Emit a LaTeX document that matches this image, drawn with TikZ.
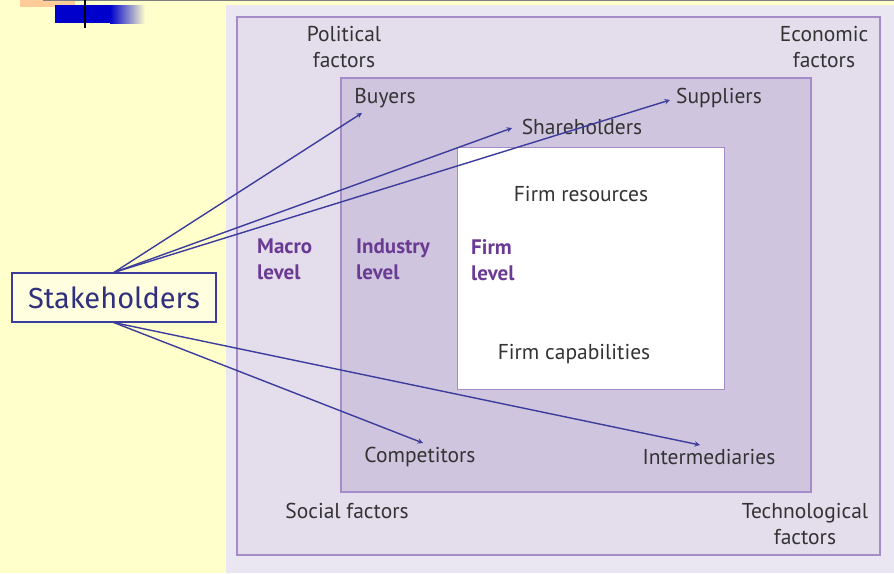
\documentclass[tikz,border=0pt]{standalone}
\usepackage{fontspec}
\setmainfont{PT Sans}
\newfontfamily\stk{Fira Sans}
\definecolor{bgy}{HTML}{FFFFCC}
\definecolor{pan}{HTML}{EAE6F2}
\definecolor{mac}{HTML}{E3DDEC}
\definecolor{ind}{HTML}{CFC5DE}
\definecolor{edg}{HTML}{A58CC8}
\definecolor{lvc}{HTML}{6B3B93}
\definecolor{arc}{HTML}{3C3C9C}
\begin{document}
\begin{tikzpicture}[x=1pt,y=-1pt,
  lab/.style={font=\fontsize{21.5}{26}\selectfont,text=black!80,align=center,inner sep=0},
  lvl/.style={font=\bfseries\fontsize{21}{26}\selectfont,text=lvc,align=left,inner sep=0,anchor=north west},
  arr/.style={draw=arc,line width=1.4pt,->,>=stealth}]
\useasboundingbox (0,0) rectangle (894,573);
\fill[bgy] (0,0) rectangle (894,573);
\fill[orange!40] (20,0) rectangle (75,7);
\fill[blue!80!black] (55,5) rectangle (110,23);
\shade[left color=blue!80!black,right color=bgy] (110,5) rectangle (145,23);
\draw[gray,line width=1.2pt] (43,0.6) -- (894,0.6);
\draw[black,line width=2pt] (85,0) -- (85,28);
\fill[pan] (226,5) rectangle (894,573);
\draw[edg,line width=1.2pt,fill=mac] (237,17) rectangle (880,555);
\draw[edg,line width=1.2pt,fill=ind] (341,78) rectangle (811,492);
\draw[edg,line width=1pt,fill=white] (457,147) rectangle (724,389);
\node[lab] (pol) at (344,47) {Political\\factors};
\node[lab] (eco) at (824,47) {Economic\\factors};
\node[lab] (soc) at (347,511) {Social factors};
\node[lab] (tec) at (805,524) {Technological\\factors};
\node[lvl] (mac) at (257,239) {Macro\\level};
\node[lvl] (ind) at (356,239) {Industry\\level};
\node[lvl] (frm) at (471,239) {Firm\\level};
\node[lab] (res) at (581,194) {Firm resources};
\node[lab] (cap) at (574,354) {Firm capabilities};
\node[lab] (buy) at (385,98) {Buyers};
\node[lab] (sha) at (582,127) {Shareholders};
\node[lab] (sup) at (719,98) {Suppliers};
\node[lab] (com) at (420,457) {Competitors};
\node[lab] (int) at (709,457) {Intermediaries};
\node[draw=arc,line width=1.2pt,fill=bgy!60!white,minimum width=204pt,minimum height=49pt,inner sep=0,
  font=\stk\fontsize{29}{32}\selectfont,text=arc!80!black] (stk) at (114,297.5) {Stakeholders};
\coordinate (ab) at (362,113);
\coordinate (as) at (512,128);
\coordinate (ap) at (670,100);
\coordinate (ac) at (423,443);
\coordinate (ai) at (700,445);
\draw[arr] (stk.north) -- (ab);
\draw[arr] (stk.north) -- (as);
\draw[arr] (stk.north) -- (ap);
\draw[arr] (stk.south) -- (ac);
\draw[arr] (stk.south) -- (ai);
\end{tikzpicture}
\end{document}
